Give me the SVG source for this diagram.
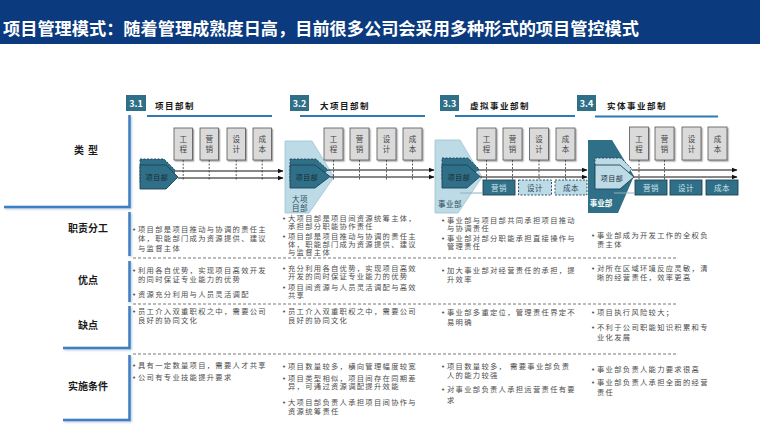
<svg xmlns="http://www.w3.org/2000/svg" width="760" height="432" viewBox="0 0 760 432">
<defs>
<marker id="ah" markerWidth="6" markerHeight="6" refX="5.5" refY="3" orient="auto" markerUnits="userSpaceOnUse">
<path d="M0,0.6 L6,3 L0,5.4 Z" fill="#111"/>
</marker>
<filter id="sh" x="-20%" y="-20%" width="150%" height="150%"><feDropShadow dx="1.3" dy="1.3" stdDeviation="0.6" flood-color="#000" flood-opacity="0.35"/></filter>
<filter id="bsh" x="-10%" y="-10%" width="130%" height="130%"><feDropShadow dx="1" dy="1" stdDeviation="0.8" flood-color="#6a8fb5" flood-opacity="0.5"/></filter>
</defs>
<style>
.t{font-family:"Noto Sans CJK SC","Noto Sans",sans-serif}
.body{font-size:7.3px;letter-spacing:1.3px;fill:#4d4d4d}
.bul{font-family:"DejaVu Sans",sans-serif;font-size:7px;fill:#555}
.lab{font-size:10px;font-weight:bold;fill:#1a1a1a;text-anchor:middle}
.num{font-size:9px;font-weight:bold;fill:#fff;text-anchor:middle}
.ttl{font-size:8.5px;letter-spacing:1.5px;font-weight:bold;fill:#1a1a1a}
.ul{stroke:#2d7bb5;stroke-width:2}
.gb{fill:#dadada;stroke:#555;stroke-width:0.8}
.gt{font-size:7.5px;fill:#444;text-anchor:middle}
.arr{stroke:#111;stroke-width:1;marker-end:url(#ah)}
.vd{stroke:#333;stroke-width:0.8;stroke-dasharray:2 1.5}
.dk{fill:#2f6f88}
.lt{fill:#bcdbe7}
.pstroke{stroke:#1d4456;stroke-width:0.9}
.pdash{stroke:#1d4456;stroke-width:0.9;stroke-dasharray:2 1.5}
.big{stroke:#9cc3d3;stroke-width:0.8}
.pt{font-size:7px;letter-spacing:0.5px;fill:#1d2a30;text-anchor:middle}
.lbt{font-size:7.5px;letter-spacing:0.5px;fill:#cfe3ec;text-anchor:middle}
.dbt{font-size:7.5px;letter-spacing:0.5px;fill:#2c4a58;text-anchor:middle}
.brk{stroke:#3c7fc4;stroke-width:2.5;fill:none}
.sep{stroke:#555;stroke-width:0.8;stroke-dasharray:3 2}
.thin{stroke:#8fb0be;stroke-width:1}
</style>
<rect width="760" height="432" fill="#fff"/>
<g id="header">
<rect x="0" y="0" width="760" height="44" fill="#0b3a7e"/>
<text class="t" x="3" y="35" font-size="17.2" font-weight="bold" fill="#fff">项目管理模式：随着管理成熟度日高，目前很多公司会采用多种形式的项目管控模式</text>
</g>
<g id="row-frames">
<g filter="url(#bsh)">
<path class="brk" d="M129.5,115 V207 H4"/>
<path class="brk" d="M129.5,212 V256"/>
<path class="brk" d="M129.5,261 V302"/>
<path class="brk" d="M129.5,306 V348 H63"/>
<path class="brk" d="M129.5,355 V420 H63"/>
</g>
<line class="sep" x1="133" y1="258" x2="677" y2="258"/>
<line class="sep" x1="133" y1="304" x2="677" y2="304"/>
<line class="sep" x1="133" y1="354" x2="677" y2="354"/>
</g>
<g id="row-labels">
<text class="t lab" x="88" y="154" letter-spacing="4">类型</text>
<text class="t lab" x="88" y="232">职责分工</text>
<text class="t lab" x="88" y="284">优点</text>
<text class="t lab" x="88" y="329">缺点</text>
<text class="t lab" x="88" y="390">实施条件</text>
</g>
<g id="panel-3-1">
<rect class="dk" x="126" y="95" width="20" height="16"/>
<text class="t num" x="136" y="106.5">3.1</text>
<text class="t ttl" x="155" y="108.5">项目部制</text>
<line class="ul" x1="147" y1="116" x2="272" y2="116"/>
<polygon class="dk pdash" points="140,159 164,159 176,171 164,182 140,182"/>
<polygon class="dk pstroke" points="140,165 166,165 178,177 166,189 140,189"/>
<text class="t pt" x="157" y="180">项目部</text>
<g filter="url(#sh)">
<rect class="gb" x="174" y="128" width="18.5" height="32"/>
<rect class="gb" x="200" y="128" width="18.5" height="32"/>
<rect class="gb" x="227" y="128" width="18.5" height="32"/>
<rect class="gb" x="253" y="128" width="18.5" height="32"/>
</g>
<text class="t gt"><tspan x="183.2" y="142.3">工</tspan><tspan x="183.2" y="152.3">程</tspan></text>
<text class="t gt"><tspan x="209.2" y="142.3">营</tspan><tspan x="209.2" y="152.3">销</tspan></text>
<text class="t gt"><tspan x="236.2" y="142.3">设</tspan><tspan x="236.2" y="152.3">计</tspan></text>
<text class="t gt"><tspan x="262.2" y="142.3">成</tspan><tspan x="262.2" y="152.3">本</tspan></text>
</g>
<g id="panel-3-2">
<rect class="dk" x="290" y="95" width="19" height="16"/>
<text class="t num" x="299.5" y="106.5">3.2</text>
<text class="t ttl" x="320" y="108.5">大项目部制</text>
<line class="ul" x1="300" y1="116" x2="425" y2="116"/>
<polygon class="lt big" points="285,141 312,141 334,177 309,213 285,213"/>
<text class="t dbt"><tspan x="300" y="201.5">大项</tspan><tspan x="300" y="211">目部</tspan></text>
<polygon class="dk pdash" points="290,159 316,159 328,170 316,181 290,181"/>
<polygon class="dk pstroke" points="290,165 315,165 330,176.5 315,188 290,188"/>
<text class="t pt" x="307" y="180">项目部</text>
<g filter="url(#sh)">
<rect class="gb" x="324" y="128" width="19" height="32"/>
<rect class="gb" x="350" y="128" width="19" height="32"/>
<rect class="gb" x="377" y="128" width="19" height="32"/>
<rect class="gb" x="403" y="128" width="19" height="32"/>
</g>
<text class="t gt"><tspan x="333.5" y="142.3">工</tspan><tspan x="333.5" y="152.3">程</tspan></text>
<text class="t gt"><tspan x="359.5" y="142.3">营</tspan><tspan x="359.5" y="152.3">销</tspan></text>
<text class="t gt"><tspan x="386.5" y="142.3">设</tspan><tspan x="386.5" y="152.3">计</tspan></text>
<text class="t gt"><tspan x="412.5" y="142.3">成</tspan><tspan x="412.5" y="152.3">本</tspan></text>
</g>
<g id="panel-3-3">
<rect class="dk" x="440" y="95" width="19" height="16"/>
<text class="t num" x="449.5" y="106.5">3.3</text>
<text class="t ttl" x="470" y="108.5">虚拟事业部制</text>
<line class="ul" x1="455" y1="116" x2="575" y2="116"/>
<polygon class="lt big" points="435,140 460,140 482,177 458,213 435,213"/>
<text class="t dbt" x="450" y="206.5">事业部</text>
<polygon class="dk pdash" points="442,158 468,158 479,169 468,180 442,180"/>
<polygon class="dk pstroke" points="442,165 467,165 480,176.5 467,188 442,188"/>
<text class="t pt" x="459" y="180">项目部</text>
<g filter="url(#sh)">
<rect class="gb" x="477" y="128" width="19" height="32"/>
<rect class="gb" x="503" y="128" width="19" height="32"/>
<rect class="gb" x="529.5" y="128" width="19" height="32"/>
<rect class="gb" x="556" y="128" width="19" height="32"/>
</g>
<text class="t gt"><tspan x="486.5" y="142.3">工</tspan><tspan x="486.5" y="152.3">程</tspan></text>
<text class="t gt"><tspan x="512.5" y="142.3">营</tspan><tspan x="512.5" y="152.3">销</tspan></text>
<text class="t gt"><tspan x="539" y="142.3">设</tspan><tspan x="539" y="152.3">计</tspan></text>
<text class="t gt"><tspan x="565.5" y="142.3">成</tspan><tspan x="565.5" y="152.3">本</tspan></text>
<rect class="dk pstroke" x="483" y="180" width="32" height="15"/>
<text class="t lbt" x="499" y="190.5">营销</text>
<rect class="lt pdash" x="518.5" y="180" width="33" height="15"/>
<text class="t dbt" x="535" y="190.5">设计</text>
<rect class="lt pdash" x="555" y="180" width="32" height="15"/>
<text class="t dbt" x="571" y="190.5">成本</text>
</g>
<g id="panel-3-4">
<rect class="dk" x="577" y="95" width="19" height="16"/>
<text class="t num" x="586.5" y="106.5">3.4</text>
<text class="t ttl" x="607" y="108.5">实体事业部制</text>
<line class="ul" x1="595" y1="116.5" x2="718" y2="116.5"/>
<polygon class="dk" points="588,140 612,140 634,176 618,213 588,213"/>
<text class="t" x="601" y="206" font-size="7.5" font-weight="bold" fill="#fff" text-anchor="middle">事业部</text>
<polygon class="lt pdash" points="595,158 621,158 632,169 621,180 595,180"/>
<polygon class="lt pstroke" points="595,165 620,165 634,177 620,189 595,189"/>
<text class="t pt" x="612" y="181">项目部</text>
<g filter="url(#sh)">
<rect class="gb" x="629.5" y="127" width="19" height="33"/>
<rect class="gb" x="655" y="127" width="19" height="33"/>
<rect class="gb" x="682" y="127" width="19" height="33"/>
<rect class="gb" x="708" y="127" width="19" height="33"/>
</g>
<text class="t gt"><tspan x="639" y="141.8">工</tspan><tspan x="639" y="151.8">程</tspan></text>
<text class="t gt"><tspan x="664.5" y="141.8">营</tspan><tspan x="664.5" y="151.8">销</tspan></text>
<text class="t gt"><tspan x="691.5" y="141.8">设</tspan><tspan x="691.5" y="151.8">计</tspan></text>
<text class="t gt"><tspan x="717.5" y="141.8">成</tspan><tspan x="717.5" y="151.8">本</tspan></text>
<rect class="dk pstroke" x="635" y="180" width="32" height="15"/>
<text class="t lbt" x="651" y="190.5">营销</text>
<rect class="dk pstroke" x="670" y="180" width="32" height="15"/>
<text class="t lbt" x="686" y="190.5">设计</text>
<rect class="dk pstroke" x="706" y="180" width="32" height="15"/>
<text class="t lbt" x="722" y="190.5">成本</text>
</g>
<g id="connectors">
<line class="vd" x1="183.2" y1="160" x2="183.2" y2="181"/>
<line class="vd" x1="209.2" y1="160" x2="209.2" y2="181"/>
<line class="vd" x1="236.2" y1="160" x2="236.2" y2="181"/>
<line class="vd" x1="262.2" y1="160" x2="262.2" y2="181"/>
<line class="arr" x1="176" y1="171" x2="283" y2="171"/>
<line class="arr" x1="178" y1="178" x2="283" y2="178"/>
<line class="vd" x1="333.5" y1="160" x2="333.5" y2="180"/>
<line class="vd" x1="359.5" y1="160" x2="359.5" y2="180"/>
<line class="vd" x1="386.5" y1="160" x2="386.5" y2="180"/>
<line class="vd" x1="412.5" y1="160" x2="412.5" y2="180"/>
<line class="arr" x1="328" y1="170" x2="434" y2="170"/>
<line class="arr" x1="330" y1="177" x2="434" y2="177"/>
<line class="vd" x1="486.5" y1="160" x2="486.5" y2="180"/>
<line class="vd" x1="512.5" y1="160" x2="512.5" y2="180"/>
<line class="vd" x1="539" y1="160" x2="539" y2="180"/>
<line class="vd" x1="565.5" y1="160" x2="565.5" y2="180"/>
<line class="arr" x1="478" y1="170" x2="587" y2="170"/>
<line class="arr" x1="480" y1="177" x2="587" y2="177"/>
<line class="thin" x1="460" y1="193" x2="483" y2="193"/>
<line class="vd" x1="639" y1="160" x2="639" y2="180"/>
<line class="vd" x1="664.5" y1="160" x2="664.5" y2="180"/>
<line class="arr" x1="632" y1="170" x2="737" y2="170"/>
<line class="arr" x1="634" y1="177" x2="737" y2="177"/>
<line class="thin" x1="614" y1="193" x2="635" y2="193"/>
</g>
<g id="cells">
<text class="t body"><tspan class="bul" x="132" y="231.5">•</tspan><tspan x="138" y="231.5">项目部是项目推动与协调的责任主</tspan><tspan x="138" y="241">体，职能部门成为资源提供、建议</tspan><tspan x="138" y="250.5">与监督主体</tspan></text>
<text class="t body"><tspan class="bul" x="282" y="220.5">•</tspan><tspan x="288" y="220.5">大项目部是项目间资源统筹主体，</tspan><tspan x="288" y="228.5">承担部分职能协作责任</tspan></text>
<text class="t body"><tspan class="bul" x="282" y="238.5">•</tspan><tspan x="288" y="238.5">项目部是项目推动与协调的责任主</tspan><tspan x="288" y="246.5">体，职能部门成为资源提供、建议</tspan><tspan x="288" y="254.5">与监督主体</tspan></text>
<text class="t body"><tspan class="bul" x="441" y="222.5">•</tspan><tspan x="447" y="222.5">事业部与项目部共同承担项目推动</tspan><tspan x="447" y="230.5">与协调责任</tspan></text>
<text class="t body"><tspan class="bul" x="441" y="241">•</tspan><tspan x="447" y="241">事业部对部分职能承担直接操作与</tspan><tspan x="447" y="249">管理责任</tspan></text>
<text class="t body"><tspan class="bul" x="591" y="238">•</tspan><tspan x="597" y="238">事业部成为开发工作的全权负</tspan><tspan x="597" y="246.5">责主体</tspan></text>
<text class="t body"><tspan class="bul" x="132" y="273">•</tspan><tspan x="138" y="273">利用各自优势，实现项目高效开发</tspan><tspan x="138" y="282">的同时保证专业能力的优势</tspan></text>
<text class="t body"><tspan class="bul" x="132" y="296.5">•</tspan><tspan x="138" y="296.5">资源充分利用与人员灵活调配</tspan></text>
<text class="t body"><tspan class="bul" x="282" y="271">•</tspan><tspan x="288" y="271">充分利用各自优势，实现项目高效</tspan><tspan x="288" y="279">开发的同时保证专业能力的优势</tspan></text>
<text class="t body"><tspan class="bul" x="282" y="290">•</tspan><tspan x="288" y="290">项目间资源与人员灵活调配与高效</tspan><tspan x="288" y="298">共享</tspan></text>
<text class="t body"><tspan class="bul" x="441" y="273">•</tspan><tspan x="447" y="273">加大事业部对经营责任的承担，提</tspan><tspan x="447" y="282">升效率</tspan></text>
<text class="t body"><tspan class="bul" x="591" y="271">•</tspan><tspan x="597" y="271">对所在区域环境反应灵敏，清</tspan><tspan x="597" y="280">晰的经营责任，效率更高</tspan></text>
<text class="t body"><tspan class="bul" x="132" y="314">•</tspan><tspan x="138" y="314">员工介入双重职权之中，需要公司</tspan><tspan x="138" y="323">良好的协同文化</tspan></text>
<text class="t body"><tspan class="bul" x="282" y="314">•</tspan><tspan x="288" y="314">员工介入双重职权之中，需要公司</tspan><tspan x="288" y="323">良好的协同文化</tspan></text>
<text class="t body"><tspan class="bul" x="441" y="315">•</tspan><tspan x="447" y="315">事业部多重定位，管理责任界定不</tspan><tspan x="447" y="324.5">易明确</tspan></text>
<text class="t body"><tspan class="bul" x="591" y="315">•</tspan><tspan x="597" y="315">项目执行风险较大；</tspan></text>
<text class="t body"><tspan class="bul" x="591" y="329.5">•</tspan><tspan x="597" y="329.5">不利于公司职能知识积累和专</tspan><tspan x="597" y="339.5">业化发展</tspan></text>
<text class="t body"><tspan class="bul" x="132" y="368">•</tspan><tspan x="138" y="368">具有一定数量项目，需要人才共享</tspan></text>
<text class="t body"><tspan class="bul" x="132" y="380">•</tspan><tspan x="138" y="380">公司有专业技能提升要求</tspan></text>
<text class="t body"><tspan class="bul" x="282" y="369">•</tspan><tspan x="288" y="369">项目数量较多，横向管理幅度较宽</tspan></text>
<text class="t body"><tspan class="bul" x="282" y="380.5">•</tspan><tspan x="288" y="380.5">项目类型相似，项目间存在同期差</tspan><tspan x="288" y="389">异，可通过资源调配提升效能</tspan></text>
<text class="t body"><tspan class="bul" x="282" y="405">•</tspan><tspan x="288" y="405">大项目部负责人承担项目间协作与</tspan><tspan x="288" y="413.5">资源统筹责任</tspan></text>
<text class="t body"><tspan class="bul" x="441" y="369">•</tspan><tspan x="447" y="369">项目数量较多， 需要事业部负责</tspan><tspan x="447" y="378">人的能力较强</tspan></text>
<text class="t body"><tspan class="bul" x="441" y="391.5">•</tspan><tspan x="447" y="391.5">对事业部负责人承担运营责任有要</tspan><tspan x="447" y="402.5">求</tspan></text>
<text class="t body"><tspan class="bul" x="591" y="371.5">•</tspan><tspan x="597" y="371.5">事业部负责人能力要求很高</tspan></text>
<text class="t body"><tspan class="bul" x="591" y="385">•</tspan><tspan x="597" y="385">事业部负责人承担全面的经营</tspan><tspan x="597" y="395">责任</tspan></text>
</g>
</svg>
